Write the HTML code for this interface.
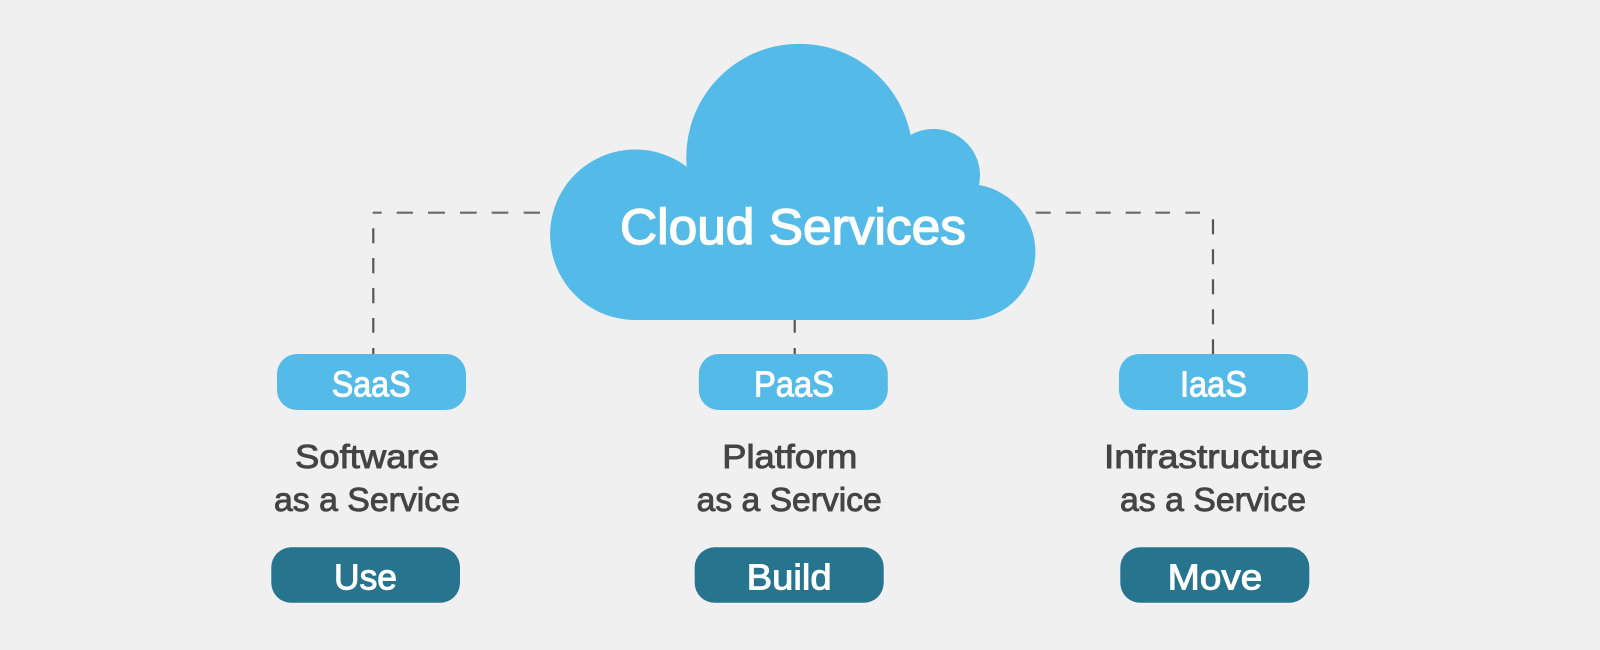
<!DOCTYPE html>
<html>
<head>
<meta charset="utf-8">
<style>
html,body{margin:0;padding:0;background:#f0f0f0;width:1600px;height:650px;overflow:hidden}
svg{display:block}
text{font-family:"Liberation Sans",sans-serif;font-weight:400}
.w{fill:#fff;stroke:#fff;stroke-width:1}
.d{fill:#444;stroke:#444;stroke-width:.9;font-size:33px}
.p{font-size:36px}
</style>
</head>
<body>
<svg width="1600" height="650" viewBox="0 0 1600 650" xmlns="http://www.w3.org/2000/svg">
<rect width="1600" height="650" fill="#f0f0f0"/>
<g stroke="#696969" stroke-width="2.2" fill="none">
<path d="M372.7 212.7H381.7M396.7 212.7H413M428 212.7H445M460 212.7H476.7M491.7 212.7H508.3M523.7 212.7H540"/>
<path d="M1035.7 212.7H1050.7M1065.7 212.7H1080.7M1095.7 212.7H1110.7M1125.7 212.7H1140.7M1155.3 212.7H1170M1185.3 212.7H1200"/>
</g>
<g stroke="#555" stroke-width="2.2" fill="none">
<path d="M373.3 228.3V243.3M373.3 258V273.3M373.3 288V303.3M373.3 318V332.7M373.3 348V354.5"/>
<path d="M1213 219.3V234.3M1213 249.3V264.3M1213 279.3V294.3M1213 309.3V324.3M1213 339.3V354.5"/>
<path d="M794.7 320V332.7M794.7 348V354.5"/>
</g>
<path fill="#54bae7" d="M635 320 A85.25 85.25 0 1 1 686.7 166.7 A113.24 113.24 0 0 1 910.6 135 A46.5 46.5 0 0 1 979 185 A68 68 0 0 1 966.5 320 Z"/>
<text x="620" y="244" class="w" style="font-size:50px;stroke-width:1.4" textLength="346" lengthAdjust="spacingAndGlyphs">Cloud Services</text>

<rect x="277" y="354" width="189" height="56" rx="20" fill="#54bae7"/>
<rect x="698.8" y="354" width="189" height="56" rx="20" fill="#54bae7"/>
<rect x="1119" y="354" width="189" height="56" rx="20" fill="#54bae7"/>
<text x="331.7" y="396.7" class="w p" textLength="79" lengthAdjust="spacingAndGlyphs">SaaS</text>
<text x="754" y="396.7" class="w p" textLength="80" lengthAdjust="spacingAndGlyphs">PaaS</text>
<text x="1180" y="396.7" class="w p" textLength="67" lengthAdjust="spacingAndGlyphs">IaaS</text>

<text x="295" y="468" class="d" textLength="144" lengthAdjust="spacingAndGlyphs">Software</text>
<text x="274" y="511" class="d" textLength="186" lengthAdjust="spacingAndGlyphs">as a Service</text>
<text x="722.3" y="468" class="d" textLength="135" lengthAdjust="spacingAndGlyphs">Platform</text>
<text x="696.7" y="511" class="d" textLength="185" lengthAdjust="spacingAndGlyphs">as a Service</text>
<text x="1104" y="468" class="d" textLength="219" lengthAdjust="spacingAndGlyphs">Infrastructure</text>
<text x="1120" y="511" class="d" textLength="186" lengthAdjust="spacingAndGlyphs">as a Service</text>

<rect x="271.3" y="547.3" width="188.7" height="55.5" rx="20" fill="#27748f"/>
<rect x="694.7" y="547.3" width="189" height="55.5" rx="20" fill="#27748f"/>
<rect x="1120.3" y="547.3" width="189" height="55.5" rx="20" fill="#27748f"/>
<text x="334" y="589.3" class="w p" textLength="63" lengthAdjust="spacingAndGlyphs">Use</text>
<text x="746.7" y="589.3" class="w p" textLength="85" lengthAdjust="spacingAndGlyphs">Build</text>
<text x="1167.7" y="589.3" class="w p" textLength="94.6" lengthAdjust="spacingAndGlyphs">Move</text>
</svg>
</body>
</html>
